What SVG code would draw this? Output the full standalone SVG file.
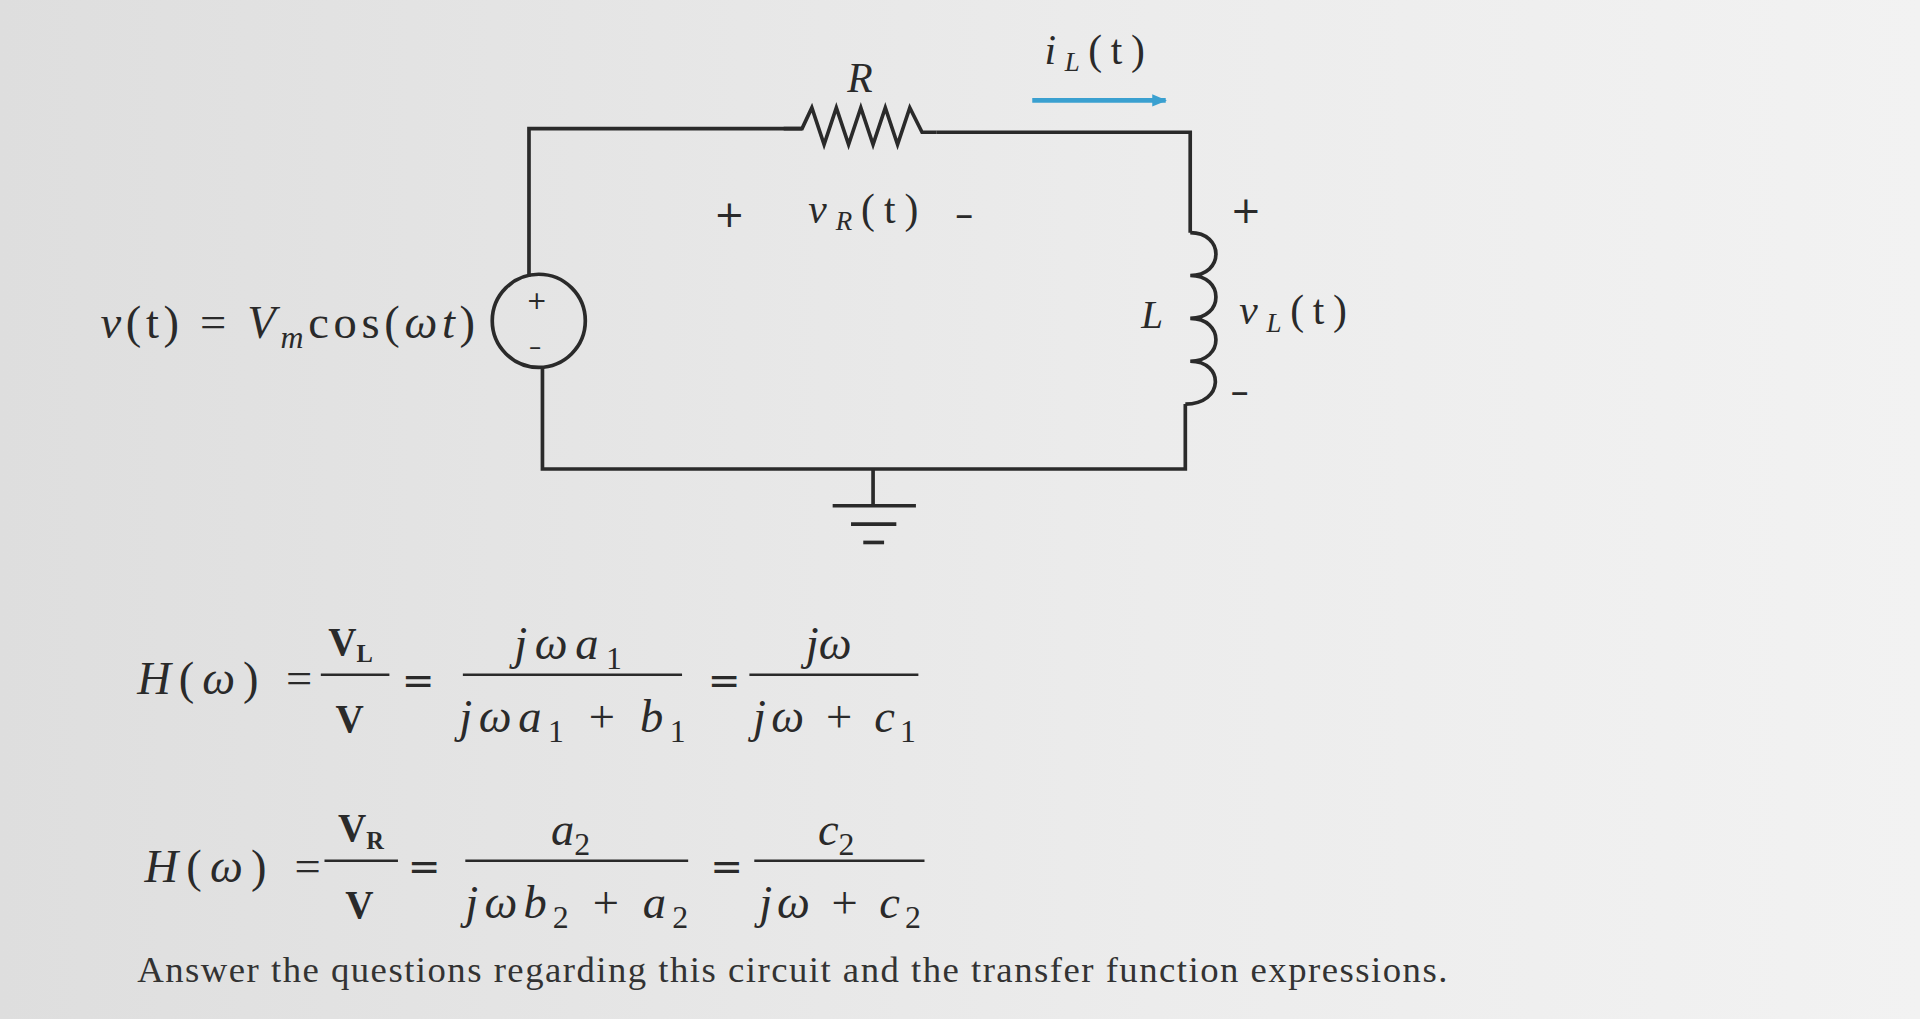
<svg xmlns="http://www.w3.org/2000/svg" width="1920" height="1019" viewBox="0 0 1920 1019">
<style>
.w{fill:none;stroke:#2a2a2a;stroke-width:3}
.t{font-family:"Liberation Serif",serif;font-style:italic;fill:#2a2a2a}
.s{font-family:"DejaVu Sans",sans-serif;fill:#2a2a2a}
.b{font-family:"Liberation Serif",serif;font-weight:bold;fill:#2a2a2a}
.f{stroke:#2a2a2a;stroke-width:2}
</style>
<defs>
<linearGradient id="bg" x1="0" x2="1"><stop offset="0" stop-color="#dedede"/><stop offset="0.6" stop-color="#ececec"/><stop offset="1" stop-color="#f2f2f2"/></linearGradient>
<marker id="ah" markerWidth="12" markerHeight="10" refX="11" refY="5" orient="auto" markerUnits="userSpaceOnUse"><path d="M0,0L12,5L0,10z" fill="#3aa0d0"/></marker>
</defs>
<rect width="1920" height="1019" fill="url(#bg)"/>
<g transform="scale(1.2245)">
<g id="connectors">
<path class="w" d="M655,105H432V226"/>
<path class="w" d="M443,300V383H968V330"/>
<path class="w" d="M765,108H972V190"/>
<path class="w" d="M713,383V413"/>
<line class="w" x1="680" y1="413" x2="748" y2="413"/>
<line class="w" x1="695" y1="428" x2="732" y2="428"/>
<line class="w" x1="705" y1="443" x2="722" y2="443"/>
<line x1="843" y1="82" x2="952" y2="82" stroke="#3aa0d0" stroke-width="4" marker-end="url(#ah)"/>
</g>
<g id="resistor">
<path class="w" d="M640,105H655L663,88L673,118L683,88L693,118L703,88L713,118L723,88L733,118L743,88L753,108H765"/>
<text class="t" x="692" y="75" font-size="34">R</text>
<text class="s" x="583" y="185" font-size="30">+</text>
<text class="t" x="660" y="182" font-size="34" textLength="90" lengthAdjust="spacing">v<tspan font-size="22" dy="6">R</tspan><tspan dy="-6" font-style="normal">(t)</tspan></text>
<text class="s" x="780" y="185" font-size="30">–</text>
</g>
<g id="source">
<circle class="w" cx="440" cy="262" r="38"/>
<text class="s" x="430" y="252" font-size="20">+</text>
<text class="s" x="432" y="290" font-size="20">–</text>
<text class="t" x="82" y="276" font-size="38" textLength="306" lengthAdjust="spacing">v<tspan font-style="normal">(t) = </tspan>V<tspan font-size="26" dy="8">m</tspan><tspan dy="-8" font-style="normal">cos(</tspan>ωt<tspan font-style="normal">)</tspan></text>
</g>
<g id="inductor">
<path class="w" d="M972,190C1000,190 1000,225 972,225C1000,225 1000,260 972,260C1000,260 1000,295 972,295C1000,295 1000,330 968,330"/>
<text class="t" x="932" y="268" font-size="32">L</text>
<text class="s" x="1005" y="182" font-size="30">+</text>
<text class="s" x="1005" y="330" font-size="30">–</text>
<text class="t" x="1012" y="265" font-size="34" textLength="88" lengthAdjust="spacing">v<tspan font-size="22" dy="6">L</tspan><tspan dy="-6" font-style="normal">(t)</tspan></text>
<text class="t" x="853" y="52" font-size="34" textLength="82" lengthAdjust="spacing">i<tspan font-size="22" dy="6">L</tspan><tspan dy="-6" font-style="normal">(t)</tspan></text>
</g>
<g id="eq1">
<text class="t" x="112" y="567" font-size="38" textLength="143" lengthAdjust="spacing">H<tspan font-style="normal">(</tspan>ω<tspan font-style="normal">) =</tspan></text>
<text class="b" x="268" y="535" font-size="32">V<tspan font-size="20" dy="6">L</tspan></text>
<line class="f" x1="262" y1="551" x2="318" y2="551"/>
<text class="b" x="274" y="598" font-size="32">V</text>
<text class="s" x="328" y="567" font-size="32">=</text>
<text class="t" x="420" y="538" font-size="38" textLength="88" lengthAdjust="spacing">jωa<tspan font-size="26" dy="8" font-style="normal">1</tspan></text>
<line class="f" x1="378" y1="551" x2="557" y2="551"/>
<text class="t" x="375" y="598" font-size="38" textLength="185" lengthAdjust="spacing">jωa<tspan font-size="26" dy="8" font-style="normal">1</tspan><tspan dy="-8" font-style="normal"> + </tspan>b<tspan font-size="26" dy="8" font-style="normal">1</tspan></text>
<text class="s" x="578" y="567" font-size="32">=</text>
<text class="t" x="658" y="538" font-size="38">jω</text>
<line class="f" x1="612" y1="551" x2="750" y2="551"/>
<text class="t" x="615" y="598" font-size="38" textLength="133" lengthAdjust="spacing">jω<tspan font-style="normal"> + </tspan>c<tspan font-size="26" dy="8" font-style="normal">1</tspan></text>
</g>
<g id="eq2">
<text class="t" x="118" y="720" font-size="38" textLength="144" lengthAdjust="spacing">H<tspan font-style="normal">(</tspan>ω<tspan font-style="normal">) =</tspan></text>
<text class="b" x="276" y="687" font-size="32">V<tspan font-size="20" dy="6">R</tspan></text>
<line class="f" x1="265" y1="703" x2="325" y2="703"/>
<text class="b" x="282" y="750" font-size="32">V</text>
<text class="s" x="333" y="719" font-size="32">=</text>
<text class="t" x="450" y="690" font-size="38">a<tspan font-size="26" dy="8" font-style="normal">2</tspan></text>
<line class="f" x1="380" y1="703" x2="562" y2="703"/>
<text class="t" x="380" y="750" font-size="38" textLength="182" lengthAdjust="spacing">jωb<tspan font-size="26" dy="8" font-style="normal">2</tspan><tspan dy="-8" font-style="normal"> + </tspan>a<tspan font-size="26" dy="8" font-style="normal">2</tspan></text>
<text class="s" x="580" y="719" font-size="32">=</text>
<text class="t" x="668" y="690" font-size="38">c<tspan font-size="26" dy="8" font-style="normal">2</tspan></text>
<line class="f" x1="616" y1="703" x2="755" y2="703"/>
<text class="t" x="620" y="750" font-size="38" textLength="132" lengthAdjust="spacing">jω<tspan font-style="normal"> + </tspan>c<tspan font-size="26" dy="8" font-style="normal">2</tspan></text>
</g>
<text x="112" y="802" font-family="Liberation Serif,serif" font-size="30" fill="#333" textLength="1070" lengthAdjust="spacing">Answer the questions regarding this circuit and the transfer function expressions.</text>
</g>
</svg>
